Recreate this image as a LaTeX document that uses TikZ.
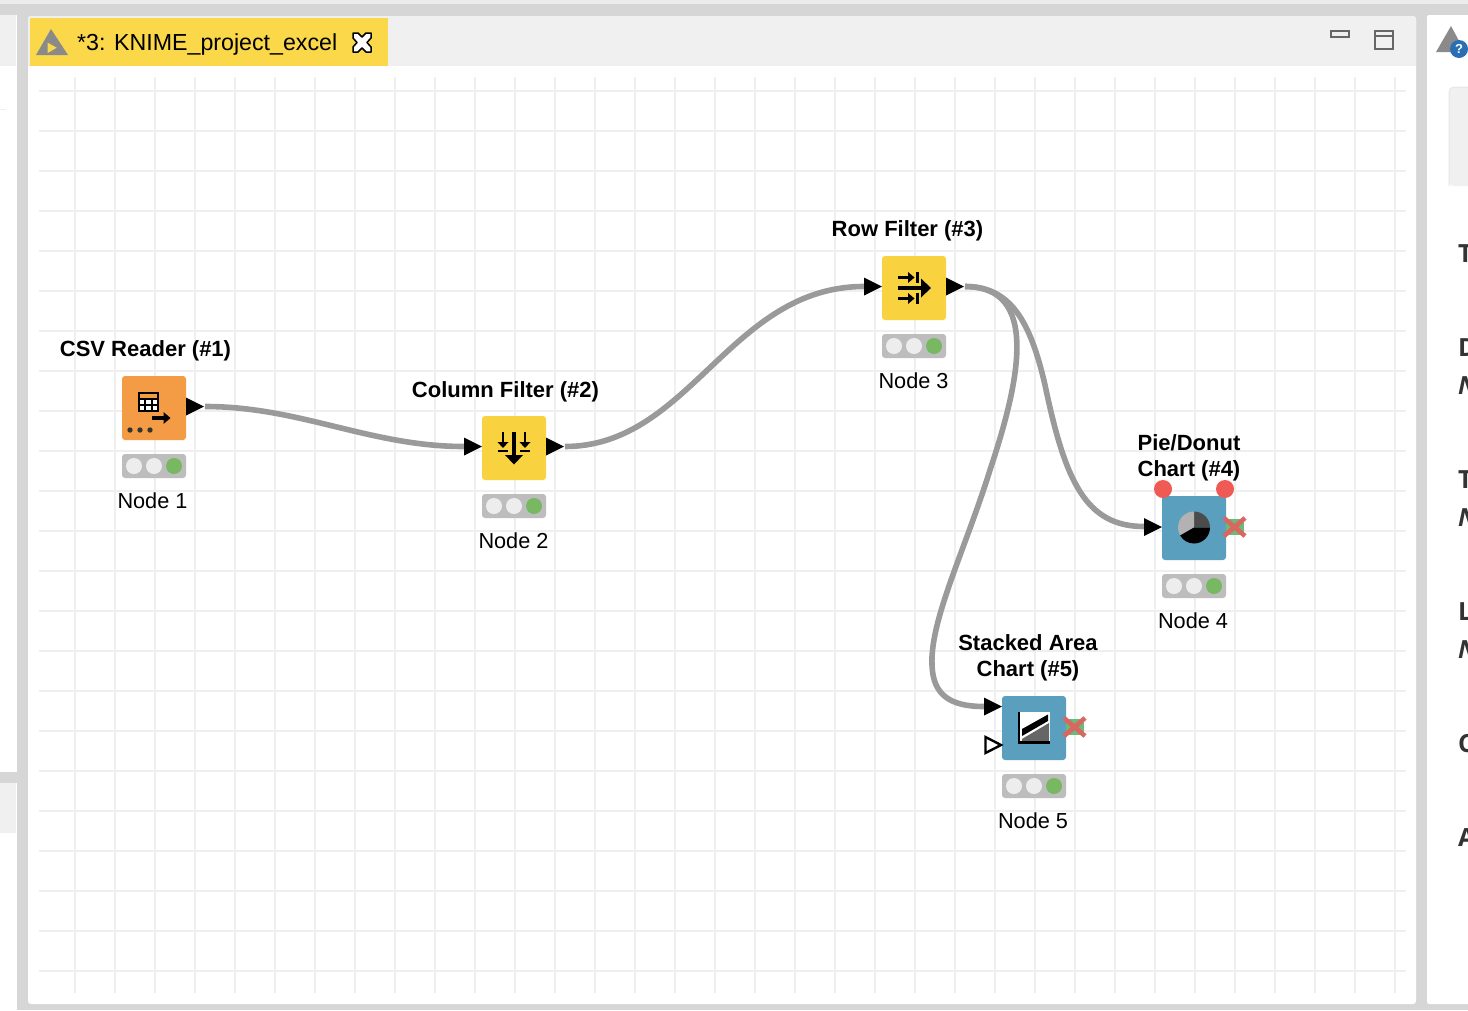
\documentclass[tikz,border=0pt]{standalone}
\usepackage{fontspec}
\setmainfont{Liberation Sans}
\newfontfamily\panelfont{Open Sans}
\definecolor{gutter}{HTML}{D6D6D6}
\definecolor{topstrip}{HTML}{ECECEC}
\definecolor{barbg}{HTML}{F0F0F0}
\definecolor{gridc}{HTML}{EFEFEF}
\definecolor{tabyellow}{HTML}{FBD84A}
\definecolor{wire}{HTML}{9A9A9A}
\definecolor{srcorange}{HTML}{F39C45}
\definecolor{manipyellow}{HTML}{F8D33F}
\definecolor{viewblue}{HTML}{5B9FBE}
\definecolor{statusbg}{HTML}{BDBDBD}
\definecolor{statusoff}{HTML}{EDEDED}
\definecolor{statusgreen}{HTML}{78B863}
\definecolor{warnred}{HTML}{EF5A54}
\definecolor{xred}{HTML}{D9665F}
\definecolor{xgreen}{HTML}{6DB97C}
\definecolor{icongray}{HTML}{8A8A8A}
\definecolor{winicon}{HTML}{666666}
\definecolor{helpblue}{HTML}{2A6FB5}
\definecolor{paneltext}{HTML}{333333}
\tikzset{
  gridline/.style={draw=gridc,line width=2pt},
  conn/.style={draw=wire,line width=5.6pt},
  nodebox/.style={minimum size=64pt,inner sep=0pt,rounded corners=3pt,outer sep=0pt},
  srcbox/.style={nodebox,fill=srcorange},
  manipbox/.style={nodebox,fill=manipyellow},
  viewbox/.style={nodebox,fill=viewblue},
  statusbox/.style={minimum width=64pt,minimum height=24pt,inner sep=0pt,rounded corners=3pt,fill=statusbg},
  lamp/.style={circle,minimum size=16pt,inner sep=0pt,fill=statusoff},
  lampon/.style={lamp,fill=statusgreen},
  title/.style={font=\fontsize{22}{26}\selectfont\bfseries,align=center,inner sep=0pt},
  caption/.style={font=\fontsize{21.7}{26}\selectfont,anchor=base,inner sep=0pt},
  porttip/.style={fill=black},
  warn/.style={circle,fill=warnred,minimum size=18pt,inner sep=0pt},
  panelhead/.style={font=\panelfont\fontsize{25}{30}\selectfont\bfseries,text=paneltext,anchor=base west,inner sep=0pt},
  panelsub/.style={font=\panelfont\fontsize{25}{30}\selectfont\itshape\bfseries,text=paneltext,anchor=base west,inner sep=0pt},
}
\newcommand{\knimeport}[2]{\fill[porttip] (#1,#2-9) -- (#1+18,#2) -- (#1,#2+9) -- cycle;}
\newcommand{\knimestatus}[3]{%
  \node[statusbox] (#3) at (#1,#2) {};
  \node[lamp] at (#1-20,#2) {};
  \node[lamp] at (#1,#2) {};
  \node[lampon] at (#1+20,#2) {};}
\newcommand{\knimefail}[2]{%
  \fill[xgreen] (#1,#2-8) rectangle (#1+18,#2+8);
  \draw[xred,line width=4.6pt] (#1-2,#2-9) -- (#1+19,#2+9) (#1-2,#2+9) -- (#1+19,#2-9);}
\begin{document}
\begin{tikzpicture}[x=1pt,y=-1pt]
\useasboundingbox (0,0) rectangle (1468,1010);
% window frame
\fill[gutter] (0,0) rectangle (1468,1010);
\fill[topstrip] (0,0) rectangle (1468,4);
% left panels
\fill[white] (0,15) rectangle (17,772);
\fill[barbg] (0,15) rectangle (16,66);
\draw[draw=gridc,line width=1pt] (0,109) -- (6,109);
\fill[white] (0,783) rectangle (17,1010);
\fill[barbg] (0,783) rectangle (16,833);
% right panel
\fill[white,rounded corners=2pt] (1427,15) rectangle (1480,1004);
\fill[barbg,rounded corners=5pt] (1449,87) rectangle (1480,186);
\draw[draw=gutter!60,line width=1pt,rounded corners=5pt] (1449,186) -- (1449,87) -- (1480,87);
\fill[icongray] (1451,26) -- (1465,52) -- (1436,52) -- cycle;
\fill[helpblue] (1459,49) circle (9);
\node[font=\fontsize{13}{13}\selectfont\bfseries,text=white,inner sep=0pt] (helpmark) at (1459,49) {?};
\begin{scope}
\clip (1427,15) rectangle (1468,1004);
\node[panelhead] (pa) at (1458,262) {T};
\node[panelhead] (pb) at (1458,356) {D};
\node[panelsub]  (pc) at (1458,394) {N};
\node[panelhead] (pd) at (1458,488) {T};
\node[panelsub]  (pe) at (1458,526) {N};
\node[panelhead] (pf) at (1458,620) {L};
\node[panelsub]  (pg) at (1458,658) {N};
\node[panelhead] (ph) at (1458,752) {C};
\node[panelhead] (pi) at (1458,846) {A};
\end{scope}
% editor
\fill[white,rounded corners=3pt] (28,16) rectangle (1416,1004);
\fill[barbg,rounded corners=3pt] (28,16) rectangle (1416,40);
\fill[barbg] (28,30) rectangle (1416,66);
\fill[tabyellow] (30,18) rectangle (388,66);
\fill[icongray] (51,29) -- (68,55) -- (36,55) -- cycle;
\fill[tabyellow] (47.7,42.7) -- (56.7,47.7) -- (47.7,53) -- cycle;
\node[font=\fontsize{23.2}{26}\selectfont,anchor=base west,inner sep=0pt] (tabtitle) at (77,50) {*3: KNIME\_project\_excel};
\draw[fill=white,line width=1.5pt,line join=round] (353,33) -- (358,33) -- (362,37) -- (366,33) -- (371,33) -- (371,38) -- (367,42.5) -- (371,47) -- (371,52) -- (366,52) -- (362,48) -- (358,52) -- (353,52) -- (353,47) -- (357,42.5) -- (353,38) -- cycle;
\draw[winicon,line width=2pt] (1331,31) rectangle (1349,37);
\draw[winicon,line width=2pt] (1375,31) rectangle (1393,49);
\draw[winicon,line width=2pt] (1375,36) -- (1393,36);
% grid
\foreach \x in {75,115,...,1395} \draw[gridline] (\x,77) -- (\x,993);
\foreach \y in {91,131,...,971} \draw[gridline] (39,\y) -- (1406,\y);
% ports as coordinates
\coordinate (out1) at (205,406.5);
\coordinate (in2) at (464,446.5);
\coordinate (out2) at (565,446.5);
\coordinate (in3) at (864,286.5);
\coordinate (out3) at (965,286.5);
\coordinate (in4) at (1144,526.5);
\coordinate (in5) at (984,706.5);
\coordinate (w3a) at (1045,385);
\coordinate (w4a) at (990,470);
\coordinate (w4b) at (932,665);
% connectors
\draw[conn] (out1) .. controls +(95,0) and +(-94,0) .. (in2);
\draw[conn] (out2) .. controls +(125,0) and +(-134,0) .. (in3);
\draw[conn] (out3) .. controls +(45,0) and (1030,320) .. (w3a) .. controls (1065,480) and (1085,526.5) .. (in4);
\draw[conn] (out3) .. controls +(75,0) and (1020,380) .. (w4a) .. controls (965,550) and (930,620) .. (w4b) .. controls (933,695) and (950,706.5) .. (in5);
% node 1
\node[srcbox] (n1) at (154,408) {};
\knimeport{186}{406.5}
\draw[line width=2.2pt,fill=white] (139,393) rectangle (158,411);
\fill[srcorange] (140,394) rectangle (157,398.5);
\draw[line width=1.8pt] (139,399) -- (158,399) (139,405) -- (158,405) (145.3,399) -- (145.3,411) (151.6,399) -- (151.6,411);
\draw[line width=3.4pt] (152,418) -- (165,418);
\fill (163.5,412) -- (170.5,418) -- (163.5,424) -- cycle;
\fill[black!80] (130,430) circle (2.7) (140,430) circle (2.7) (150,430) circle (2.7);
\knimestatus{154}{466}{s1}
\node[title] (t1) at (145.5,351) {CSV Reader (\#1)};
\node[caption] (c1) at (152.5,508) {Node 1};
% node 2
\node[manipbox] (n2) at (514,448) {};
\knimeport{464}{446.5}
\knimeport{546}{446.5}
\draw[line width=3.4pt] (514,432) -- (514,458);
\fill (505,455) -- (523,455) -- (514,464.5) -- cycle;
\draw[line width=2.6pt] (503,432) -- (503,445) (525,432) -- (525,445);
\fill (497.5,442) -- (508.5,442) -- (503,448) -- cycle (519.5,442) -- (530.5,442) -- (525,448) -- cycle;
\draw[line width=2.4pt] (498,451) -- (508,451) (520,451) -- (530,451);
\knimestatus{514}{506}{s2}
\node[title] (t2) at (505.5,391.5) {Column Filter (\#2)};
\node[caption] (c2) at (513.5,548) {Node 2};
% node 3
\node[manipbox] (n3) at (914,288) {};
\knimeport{864}{286.5}
\knimeport{946}{286.5}
\draw[line width=3.4pt] (898,288) -- (925,288);
\fill (921,278.5) -- (931,288) -- (921,297.5) -- cycle;
\draw[line width=2.6pt] (898,277.5) -- (910,277.5) (898,298.5) -- (910,298.5);
\fill (908,272) -- (914.5,277.5) -- (908,283) -- cycle (908,293) -- (914.5,298.5) -- (908,304) -- cycle;
\draw[line width=2.4pt] (917.5,272) -- (917.5,283) (917.5,293) -- (917.5,304);
\knimestatus{914}{346}{s3}
\node[title] (t3) at (907.5,230.5) {Row Filter (\#3)};
\node[caption] (c3) at (913.5,388) {Node 3};
% node 4
\node[viewbox] (n4) at (1194,528) {};
\knimeport{1144}{527}
\fill[black!70] (1194,527.5) -- (1194,511.5) arc[start angle=-90,end angle=0,radius=16] -- cycle;
\fill[black!30] (1194,527.5) -- (1194,511.5) arc[start angle=270,end angle=150,radius=16] -- cycle;
\fill[black] (1194,527.5) -- (1210,527.5) arc[start angle=0,end angle=150,radius=16] -- cycle;
\knimefail{1226}{527}
\node[warn] (w4l) at (1163,489) {};
\node[warn] (w4r) at (1225,489) {};
\knimestatus{1194}{586}{s4}
\node[title] (t4) at (1189,457.5) {Pie/Donut\\Chart (\#4)};
\node[caption] (c4) at (1193,628) {Node 4};
% node 5
\node[viewbox] (n5) at (1034,728) {};
\knimeport{984}{706.5}
\draw[line width=2.4pt,fill=white] (985.5,737) -- (1001,745) -- (985.5,753) -- cycle;
\fill[white] (1019,712) rectangle (1050,743);
\fill[black!60] (1022,739) -- (1049,723) -- (1049,741) -- (1022,741) -- cycle;
\fill (1022,729) -- (1048,714.5) -- (1048,721) -- (1022,736) -- cycle;
\draw[line width=2.2pt] (1019,712) -- (1019,742.5) -- (1050,742.5);
\knimefail{1066}{727}
\knimestatus{1034}{786}{s5}
\node[title] (t5) at (1028,657.5) {Stacked Area\\Chart (\#5)};
\node[caption] (c5) at (1033,828) {Node 5};
\end{tikzpicture}
\end{document}
